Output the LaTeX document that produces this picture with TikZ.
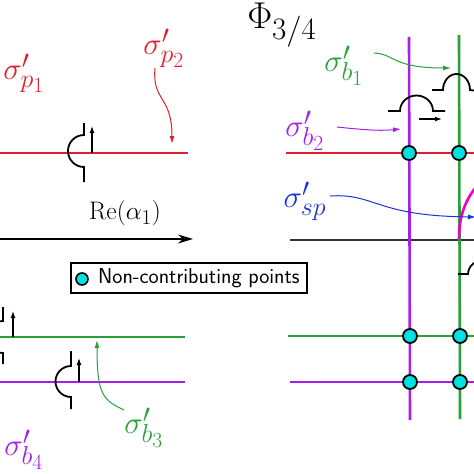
\documentclass[tikz,border=0pt]{standalone}
\usetikzlibrary{arrows.meta}
\definecolor{cred}{RGB}{226,30,40}
\definecolor{cpur}{RGB}{165,30,235}
\definecolor{cgrn}{RGB}{40,160,55}
\definecolor{cblu}{RGB}{30,50,220}
\definecolor{cmag}{RGB}{240,0,200}
\definecolor{ccya}{RGB}{0,225,225}
\tikzset{
  cline/.style={line width=2.6pt},
  contour/.style={line width=1.8pt,black},
  dirarrow/.style={line width=1.2pt,black,-{Latex[length=7pt,width=5pt]}},
  annot/.style={line width=1pt,-{Latex[length=8pt,width=5pt]}},
  dot/.style={circle,draw=black,line width=1.8pt,fill=ccya,inner sep=0pt,minimum size=14pt},
  lbl/.style={inner sep=0pt,font=\Huge,scale=1.25},
}
\begin{document}
\begin{tikzpicture}[x=1pt,y=1pt]
\useasboundingbox (0,0) rectangle (474,-474);
\clip (0,0) rectangle (474,-474);
% coordinates
\coordinate (axL) at (0,-239); \coordinate (axR) at (193,-239);
\coordinate (axRL) at (290,-240); \coordinate (axRR) at (480,-240);
\coordinate (rL1) at (0,-153); \coordinate (rL2) at (188,-153);
\coordinate (rR1) at (286,-153); \coordinate (rR2) at (480,-153);
\coordinate (gL1) at (0,-337); \coordinate (gL2) at (185,-337);
\coordinate (gR1) at (288,-336); \coordinate (gR2) at (480,-336);
\coordinate (pL1) at (0,-382); \coordinate (pL2) at (185,-382);
\coordinate (pR1) at (290,-382); \coordinate (pR2) at (480,-382);
\coordinate (pV1) at (409,-37); \coordinate (pV2) at (410,-420);
\coordinate (gV1) at (459,-35); \coordinate (gV2) at (460,-419);
% axes
\draw[line width=1.6pt,-{Stealth[length=15pt,width=9pt]}] (axL) -- (axR);
\draw[line width=1.6pt,black!80] (axRL) -- (axRR);
% coloured lines
\draw[cline,cred] (rL1) -- (rL2);
\draw[cline,cred] (rR1) -- (rR2);
\draw[cline,cgrn] (gL1) -- (gL2);
\draw[cline,cgrn] (gR1) -- (gR2);
\draw[cline,cpur] (pL1) -- (pL2);
\draw[cline,cpur] (pR1) -- (pR2);
\draw[cline,cpur] (pV1) -- (pV2);
\draw[cline,cgrn] (gV1) -- (gV2);
% magenta curve
\coordinate (m0) at (459,-239);
\coordinate (m1) at (482,-180);
\draw[cline,cmag] (m0) .. controls (459,-213) and (467,-196) .. (m1);
% contours (left)
\coordinate (c1) at (84,-123);
\draw[contour] (c1) -- (84,-135) arc[start angle=90,end angle=270,radius=16] -- (84,-182);
\coordinate (a1s) at (92,-153); \coordinate (a1e) at (92,-126);
\draw[dirarrow] (a1s) -- (a1e);
\coordinate (c2) at (71,-351);
\draw[contour] (c2) -- (71,-366) arc[start angle=90,end angle=270,radius=15.5] -- (71,-409);
\coordinate (a2s) at (79,-382); \coordinate (a2e) at (79,-358);
\draw[dirarrow] (a2s) -- (a2e);
\coordinate (c3) at (3,-307);
\draw[contour] (c3) -- (3,-321) arc[start angle=90,end angle=270,radius=16] -- (3,-364);
\coordinate (a3s) at (13,-337); \coordinate (a3e) at (13,-311);
\draw[dirarrow] (a3s) -- (a3e);
% contours (right)
\coordinate (c4) at (388,-111);
\draw[contour] (c4) -- (400,-111) arc[start angle=180,end angle=0,x radius=16.5,y radius=15.5] -- (445,-111);
\coordinate (a4s) at (419,-119); \coordinate (a4e) at (442,-119);
\draw[dirarrow] (a4s) -- (a4e);
\coordinate (c5) at (432,-90);
\draw[contour] (c5) -- (443,-90) arc[start angle=180,end angle=0,x radius=13.5,y radius=16] -- (485,-92);
\coordinate (c6) at (458,-274);
\draw[contour] (c6) -- (468,-274) arc[start angle=180,end angle=110,radius=13];
% dots
\node[dot] (d1) at (409,-153) {};
\node[dot] (d2) at (459,-153) {};
\node[dot] (d3) at (410,-336) {};
\node[dot] (d4) at (460,-336) {};
\node[dot] (d5) at (410,-382) {};
\node[dot] (d6) at (460,-382) {};
% labels
\node[inner sep=0pt,font=\Huge,scale=1.5,anchor=north] (phi) at (282,-3) {$\Phi_{3/4}$};
\node[lbl,text=cred] (sp1) at (24,-73) {$\sigma'_{p_1}$};
\node[lbl,text=cred] (sp2) at (164,-48) {$\sigma'_{p_2}$};
\node[lbl,text=cgrn] (sb1) at (344,-66) {$\sigma'_{b_1}$};
\node[lbl,text=cpur] (sb2) at (305,-131) {$\sigma'_{b_2}$};
\node[lbl,text=cblu] (ssp) at (305,-201) {$\sigma'_{sp}$};
\node[lbl,text=cgrn] (sb3) at (144,-428) {$\sigma'_{b_3}$};
\node[lbl,text=cpur] (sb4) at (24,-450) {$\sigma'_{b_4}$};
\node[inner sep=0pt,font=\Huge,scale=1.02] (re) at (125,-213) {$\mathrm{Re}(\alpha_1)$};
% annotation arrows
\coordinate (ap2s) at (155,-68); \coordinate (ap2e) at (172,-144);
\draw[annot,cred] (ap2s) .. controls (152,-102) and (172,-95) .. (ap2e);
\coordinate (ab1s) at (374,-53); \coordinate (ab1e) at (451,-68);
\draw[annot,cgrn] (ab1s) .. controls (395,-54) and (392,-68) .. (ab1e);
\coordinate (ab2s) at (337,-127); \coordinate (ab2e) at (401,-129);
\draw[annot,cpur] (ab2s) .. controls (365,-130) and (380,-131) .. (ab2e);
\coordinate (asps) at (330,-196); \coordinate (aspe) at (476,-217);
\draw[annot,cblu] (asps) .. controls (375,-193) and (375,-216) .. (aspe);
\coordinate (ab3s) at (124,-410); \coordinate (ab3e) at (97,-340);
\draw[annot,cgrn] (ab3s) .. controls (103,-400) and (97,-395) .. (ab3e);
% legend
\node[draw=black,line width=1.3pt,minimum width=236pt,minimum height=30pt,inner sep=0pt] (leg) at (189,-278) {};
\node[dot,minimum size=12pt,line width=1.6pt] (legdot) at (82,-279) {};
\node[anchor=west,inner sep=0pt,font=\sffamily\fontsize{21.5}{24}\selectfont] (legtxt) at (98,-278) {Non-contributing points};
\end{tikzpicture}
\end{document}
